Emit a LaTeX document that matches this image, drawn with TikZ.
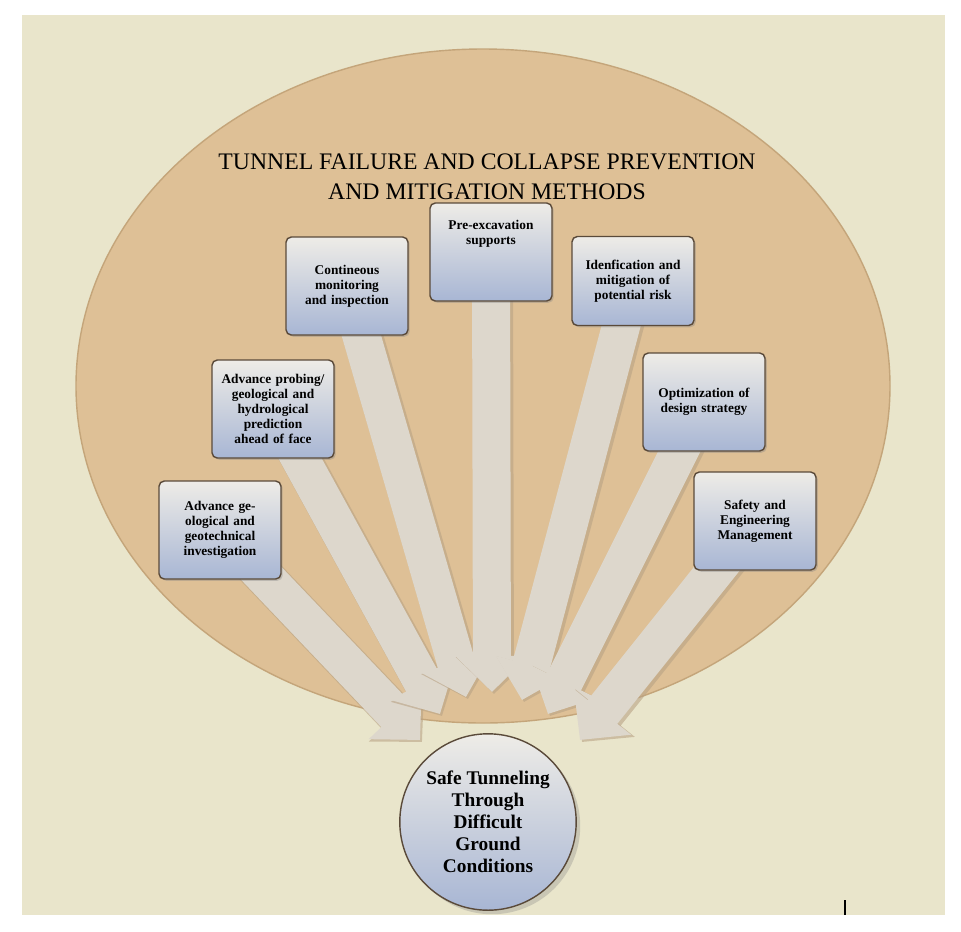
\documentclass[tikz,border=0pt]{standalone}
\usepackage{fontspec}
\setmainfont{Liberation Serif}
\usetikzlibrary{arrows.meta,shadows,calc}
\definecolor{bgc}{HTML}{E9E5CB}
\definecolor{tan}{HTML}{DEC096}
\definecolor{tanb}{HTML}{C4A57A}
\definecolor{arr}{HTML}{DDD7CC}
\definecolor{arrs}{HTML}{B9A385}
\definecolor{boxtop}{HTML}{EEECE7}
\definecolor{boxbot}{HTML}{A8B6D4}
\definecolor{boxb}{HTML}{5A4A3A}
\begin{document}
\begin{tikzpicture}[x=0.02cm,y=-0.02cm,
  box/.style={draw=boxb,line width=0.8pt,rounded corners=3pt,top color=boxtop,bottom color=boxbot,
    minimum width=2.44cm,minimum height=1.96cm,text width=2.2cm,align=center,
    font=\fontsize{7.6}{8.6}\selectfont\bfseries,inner sep=2pt,drop shadow={opacity=0.35,shadow xshift=1pt,shadow yshift=-1pt}},
  ar/.style={draw=arr,line width=0.76cm,-{Triangle[width=1.42cm,length=0.72cm]},shorten <=2pt},
  ars/.style={draw=arrs,line width=0.8cm,-{Triangle[width=1.48cm,length=0.74cm]},shorten <=2pt}]
\useasboundingbox (0,0) rectangle (961,931);
\fill[white] (0,0) rectangle (961,931);
\fill[bgc] (22,15) rectangle (945,915);
\draw[black,line width=0.6pt] (845,900) -- (845,915);
\filldraw[fill=tan,draw=tanb,line width=0.8pt] (483,386) ellipse [x radius=407,y radius=337];
\node[font=\fontsize{13.5}{17}\selectfont,align=center] (title) at (487,177) {TUNNEL FAILURE AND COLLAPSE PREVENTION\\AND MITIGATION METHODS};
% box positions
\coordinate (p1) at (220,530);
\coordinate (p2) at (273,409);
\coordinate (p3) at (347,286);
\coordinate (p4) at (491,252);
\coordinate (p5) at (633,281);
\coordinate (p6) at (704,402);
\coordinate (p7) at (755,521);
\coordinate (t1) at (420,740);
\coordinate (t2) at (440,714);
\coordinate (t3) at (466,697);
\coordinate (t4) at (492,692);
\coordinate (t5) at (522,700);
\coordinate (t6) at (548,714);
\coordinate (t7) at (580,740);
\foreach \i in {1,...,7}{
  \draw[ars,opacity=0.6] ($(p\i)+(2,2)$) -- ($(t\i)+(2,2)$);
  \draw[ar] (p\i) -- (t\i);
}
\node[box] (b1) at (p1) {Advance geological and geotechnical investigation};
\node[box] (b2) at (p2) {Advance probing/ geological and hydrological prediction ahead of face};
\node[box] (b3) at (p3) {Contineous monitoring and inspection};
\node[box,text depth=1.1cm] (b4) at (p4) {Pre-excavation supports};
\node[box,minimum height=1.78cm] (b5) at (p5) {Idenfication and mitigation of potential risk};
\node[box] (b6) at (p6) {Optimization of design strategy};
\node[box] (b7) at (p7) {Safety and Engineering Management};
\node[circle,draw=boxb,line width=0.8pt,top color=boxtop,bottom color=boxbot,minimum size=3.2cm,
  align=center,font=\fontsize{11}{12.5}\selectfont\bfseries,drop shadow={opacity=0.3}] (goal) at (488,822)
  {Safe Tunneling\\Through\\Difficult\\Ground\\Conditions};
\end{tikzpicture}
\end{document}
